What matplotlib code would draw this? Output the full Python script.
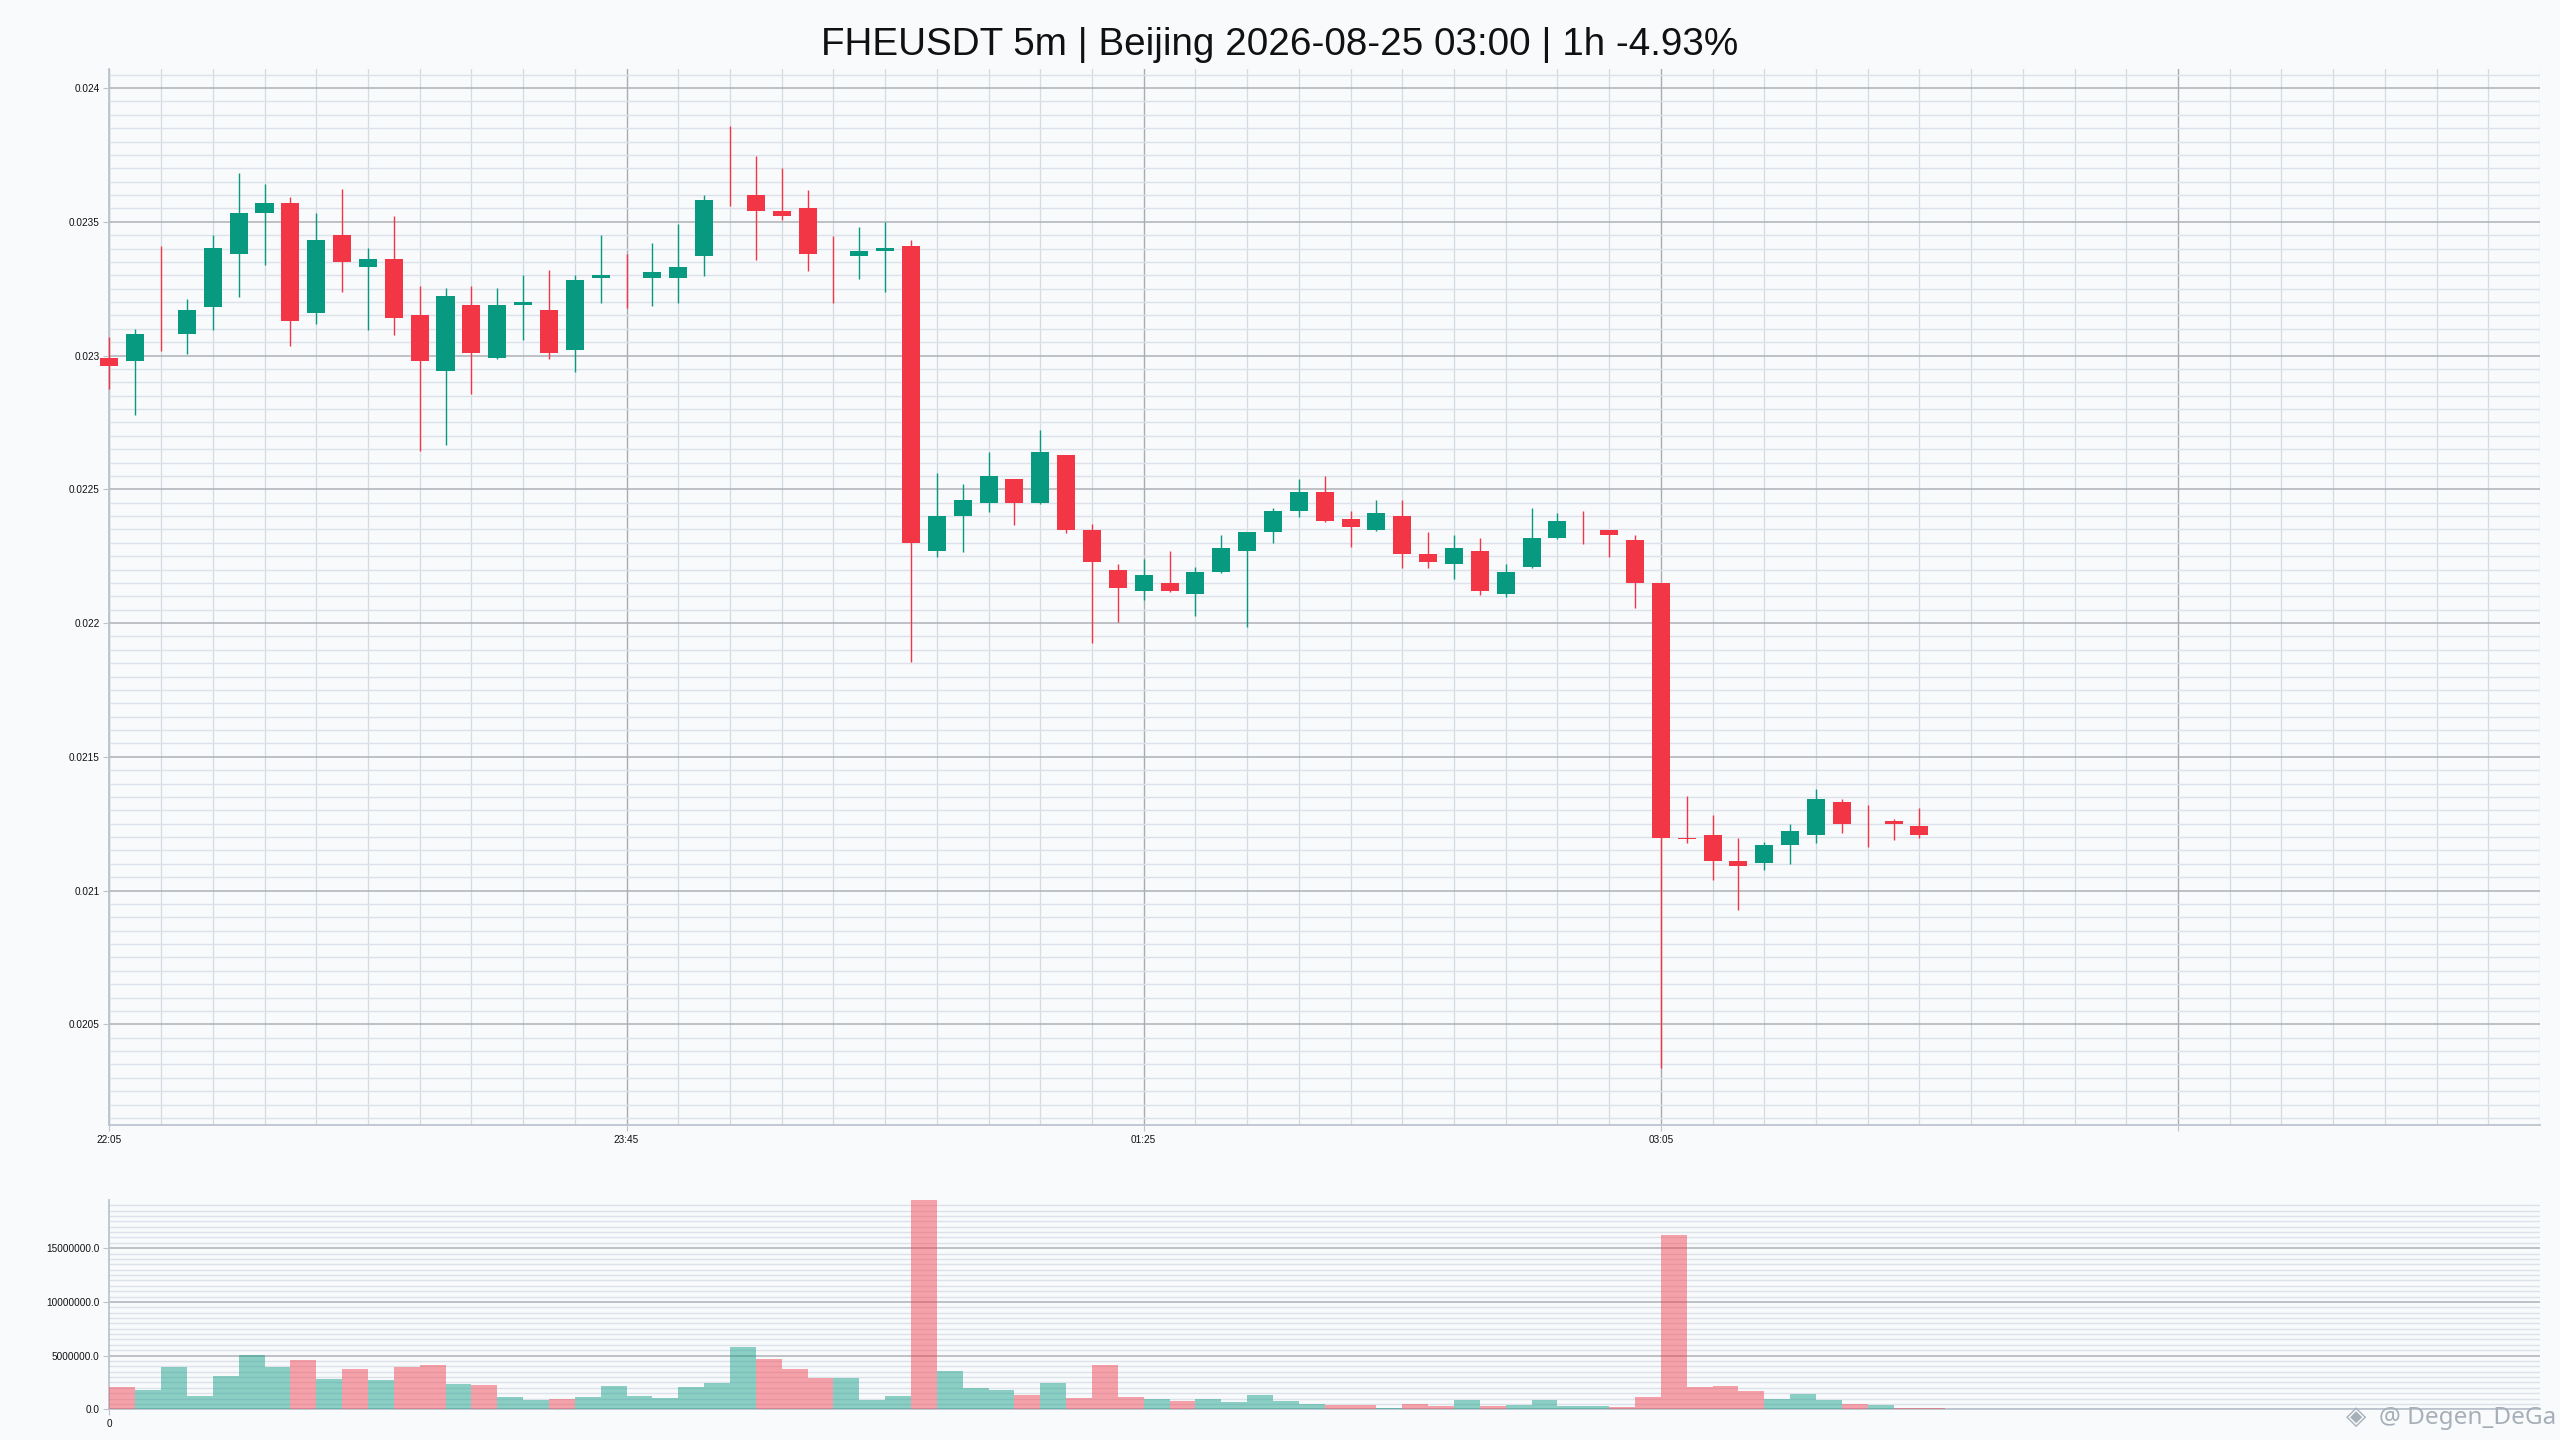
import matplotlib
matplotlib.use("Agg")
import matplotlib.pyplot as plt
from matplotlib.ticker import FixedLocator, FuncFormatter, MultipleLocator
import numpy as np

# ---------------- data ----------------
title = "FHEUSDT 5m | Beijing 2026-08-25 03:00 | 1h -4.93%"
watermark = "@ Degen_DeGa"
x_tick_idx = [0, 20, 40, 60, 80]
x_tick_labels = ["22:05", "23:45", "01:25", "03:05", ""]

opens = [0.022991, 0.022981, 0.023080, 0.023082, 0.023183, 0.023381, 0.023535, 0.023571, 0.023159, 0.023451,
         0.023331, 0.023361, 0.023152, 0.022943, 0.023189, 0.022992, 0.023190, 0.023170, 0.023022, 0.023291,
         0.023300, 0.023291, 0.023291, 0.023374, 0.023600, 0.023600, 0.023539, 0.023550, 0.023390, 0.023372,
         0.023391, 0.023408, 0.022270, 0.022400, 0.022450, 0.022538, 0.022450, 0.022628, 0.022349, 0.022199,
         0.022121, 0.022150, 0.022110, 0.022192, 0.022270, 0.022341, 0.022420, 0.022490, 0.022390, 0.022348,
         0.022401, 0.022259, 0.022221, 0.022270, 0.022110, 0.022210, 0.022319, 0.022360, 0.022348, 0.022310,
         0.022150, 0.021198, 0.021209, 0.021109, 0.021102, 0.021169, 0.021209, 0.021330, 0.021260, 0.021261,
         0.021240]
highs = [0.023069, 0.023099, 0.023410, 0.023211, 0.023451, 0.023683, 0.023642, 0.023593, 0.023533, 0.023623,
         0.023402, 0.023522, 0.023260, 0.023253, 0.023260, 0.023253, 0.023301, 0.023320, 0.023301, 0.023451,
         0.023380, 0.023421, 0.023492, 0.023600, 0.023860, 0.023748, 0.023700, 0.023620, 0.023449, 0.023479,
         0.023501, 0.023431, 0.022562, 0.022520, 0.022639, 0.022538, 0.022722, 0.022628, 0.022371, 0.022222,
         0.022240, 0.022270, 0.022211, 0.022330, 0.022341, 0.022431, 0.022538, 0.022551, 0.022419, 0.022461,
         0.022461, 0.022341, 0.022330, 0.022319, 0.022221, 0.022430, 0.022413, 0.022419, 0.022348, 0.022330,
         0.022150, 0.021352, 0.021281, 0.021198, 0.021180, 0.021250, 0.021381, 0.021341, 0.021321, 0.021269,
         0.021310]
lows = [0.022876, 0.022777, 0.023017, 0.023006, 0.023095, 0.023220, 0.023339, 0.023036, 0.023118, 0.023238,
        0.023095, 0.023077, 0.022643, 0.022666, 0.022857, 0.022988, 0.023059, 0.022988, 0.022939, 0.023198,
        0.023179, 0.023187, 0.023198, 0.023299, 0.023560, 0.023356, 0.023507, 0.023315, 0.023196, 0.023285,
        0.023236, 0.021856, 0.022248, 0.022266, 0.022415, 0.022367, 0.022446, 0.022337, 0.021927, 0.022005,
        0.022087, 0.022117, 0.022028, 0.022188, 0.021986, 0.022298, 0.022397, 0.022378, 0.022286, 0.022345,
        0.022207, 0.022207, 0.022165, 0.022105, 0.022098, 0.022207, 0.022315, 0.022296, 0.022247, 0.022056,
        0.020335, 0.021177, 0.021039, 0.020928, 0.021075, 0.021099, 0.021177, 0.021217, 0.021164, 0.021188,
        0.021195]
closes = [0.022962, 0.023080, 0.023080, 0.023170, 0.023402, 0.023533, 0.023571, 0.023129, 0.023432, 0.023350,
          0.023361, 0.023140, 0.022981, 0.023223, 0.023011, 0.023189, 0.023200, 0.023011, 0.023283, 0.023301,
          0.023300, 0.023313, 0.023331, 0.023582, 0.023600, 0.023541, 0.023522, 0.023380, 0.023390, 0.023390,
          0.023401, 0.022299, 0.022400, 0.022461, 0.022551, 0.022450, 0.022639, 0.022349, 0.022230, 0.022132,
          0.022180, 0.022121, 0.022192, 0.022281, 0.022341, 0.022420, 0.022490, 0.022382, 0.022361, 0.022413,
          0.022259, 0.022230, 0.022281, 0.022121, 0.022192, 0.022319, 0.022382, 0.022360, 0.022330, 0.022150,
          0.021198, 0.021192, 0.021109, 0.021091, 0.021169, 0.021221, 0.021341, 0.021250, 0.021260, 0.021250,
          0.021209]
volumes = [2070000, 1800000, 3960000, 1270000, 3100000, 5050000, 3960000, 4580000, 2820000, 3750000,
           2720000, 3960000, 4120000, 2350000, 2260000, 1150000, 900000, 960000, 1150000, 2170000,
           1240000, 1050000, 2070000, 2450000, 5790000, 4670000, 3750000, 2940000, 2940000, 900000,
           1270000, 19490000, 3590000, 2010000, 1830000, 1360000, 2480000, 1080000, 4150000, 1180000,
           990000, 800000, 990000, 710000, 1360000, 800000, 530000, 430000, 430000, 150000,
           530000, 340000, 900000, 340000, 430000, 900000, 340000, 340000, 250000, 1180000,
           16220000, 2110000, 2200000, 1730000, 990000, 1460000, 900000, 530000, 430000, 150000,
           150000]

# ---------------- style ----------------
BG = "#F8FAFC"
UP = "#089981"
DOWN = "#F23645"
TICK_FONT = ["Liberation Sans", "DejaVu Sans"]

plt.rcParams["font.family"] = TICK_FONT

fig = plt.figure(figsize=(25.6, 14.4), dpi=100, facecolor=BG)
W, H = 2560, 1440
ax = fig.add_axes([109.4 / W, 1 - 1125 / H, (2540 - 109.4) / W, (1125 - 69) / H])
axv = fig.add_axes([109.4 / W, 1 - 1409.3 / H, (2540 - 109.4) / W, (1409.3 - 1200) / H])
for a in (ax, axv):
    a.set_facecolor(BG)
    a.set_axisbelow(True)
    for s in ("top", "right"):
        a.spines[s].set_visible(False)
    for s in ("left", "bottom"):
        a.spines[s].set_color("#BCC4CF")
        a.spines[s].set_linewidth(1.3)
    a.tick_params(axis="both", which="major", labelsize=7.2, length=4, width=0.8,
                  color="#BCC4CF", labelcolor="#111111", pad=3)
    a.tick_params(axis="both", which="minor", length=0)

n = len(opens)
xs = np.arange(n)

# ---------------- candles ----------------
for i in range(n):
    o, h, l, c = opens[i], highs[i], lows[i], closes[i]
    col = UP if c > o else DOWN
    ax.vlines(xs[i], l, h, color=col, linewidth=1.0, zorder=3, clip_on=False)
    ax.bar(xs[i], abs(c - o), bottom=min(o, c), width=0.7, color=col,
           linewidth=0, zorder=4, clip_on=False)

lo, hi = min(lows), max(highs)
rng = hi - lo
ax.set_ylim(lo - 0.06 * rng, hi + 0.06 * rng)
ax.set_xlim(0, 94)

ax.yaxis.set_major_locator(MultipleLocator(0.0005))
ax.yaxis.set_minor_locator(MultipleLocator(0.00005))
ax.yaxis.set_major_formatter(FuncFormatter(lambda v, p: f"{v:g}"))
ax.xaxis.set_major_locator(FixedLocator(x_tick_idx))
ax.set_xticklabels(x_tick_labels)
ax.xaxis.set_minor_locator(MultipleLocator(2))

ax.grid(which="major", axis="y", color="#ADB1B6", linewidth=1.1)
ax.grid(which="minor", axis="y", color="#DDE2EA", linewidth=1.0)
ax.grid(which="major", axis="x", color="#A8ACB1", linewidth=1.0)
ax.grid(which="minor", axis="x", color="#D5DBE3", linewidth=0.9)

# ---------------- volume ----------------
vcols = [UP if closes[i] >= opens[i] else DOWN for i in range(n)]
axv.bar(xs, volumes, width=1.0, align="edge", color=vcols, alpha=0.45, linewidth=0, zorder=3)
axv.set_xlim(0, 94)
axv.set_ylim(0, max(volumes))
axv.yaxis.set_major_locator(MultipleLocator(5000000))
axv.yaxis.set_minor_locator(MultipleLocator(500000))
axv.yaxis.set_major_formatter(FuncFormatter(lambda v, p: f"{v:.1f}"))
axv.xaxis.set_major_locator(FixedLocator([0]))
axv.set_xticklabels(["0"])
axv.grid(which="major", axis="y", color="#ADB1B6", linewidth=1.1)
axv.grid(which="minor", axis="y", color="#DDE2EA", linewidth=1.0)

# ---------------- texts ----------------
fig.text(0.5, 1 - 55 / H, title, ha="center", va="baseline", fontsize=27.8,
         color="#111111", family=TICK_FONT)
fig.text(2346 / W, 1 - 1424 / H, "\u25C8", ha="left", va="baseline", fontsize=19,
         color="#A7AFB9", family=["DejaVu Sans"])
fig.text(2556 / W, 1 - 1424 / H, watermark, ha="right", va="baseline", fontsize=17.5,
         color="#A7AFB9", family=["Noto Sans", "DejaVu Sans"])

fig.savefig("out.png", dpi=100, facecolor=BG)
